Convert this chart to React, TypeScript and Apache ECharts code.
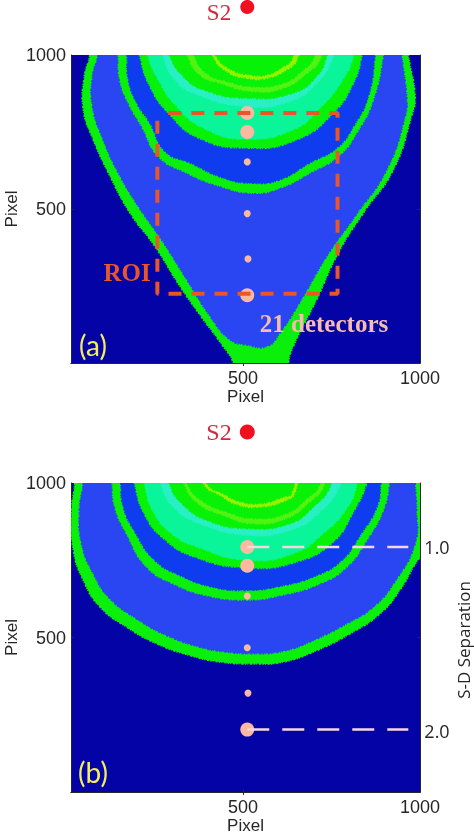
import React, { useEffect, useRef } from "react";
import * as echarts from "echarts";

type P = [number, number];

// ---------- panel (a) contours ----------
const aBand1Outer: P[] = [[68,1040],[68,1001],[52,931],[49,823],[77,725],[120,617],[181,487],[251,379],[322,249],[388,141],[444,54],[473,0],[473,-40],[628,-40],[628,0],[642,54],[708,206],[769,357],[840,487],[925,628],[976,801],[986,866],[967,1001],[967,1040]];
const aBand1Inner: P[] = [[91,1040],[91,1001],[75,931],[75,833],[105,725],[148,617],[204,509],[270,400],[341,271],[407,152],[463,76],[510,59],[567,54],[604,97],[670,216],[736,346],[816,476],[906,628],[958,801],[962,866],[948,1001],[948,1040]];
const aBand2Outer: P[] = [[148,1040],[148,1001],[152,920],[176,844],[214,768],[261,671],[341,617],[435,574],[529,552],[604,568],[689,617],[769,671],[821,747],[868,855],[896,1001],[896,1040]];
const aBand2Inner: P[] = [[173,1040],[173,1001],[176,920],[200,844],[237,779],[280,687],[350,650],[444,601],[529,584],[604,595],[689,650],[765,698],[812,768],[854,866],[873,1001],[873,1040]];
const aCoreOuter: P[] = [[209,1040],[209,996],[237,898],[289,812],[374,731],[510,698],[652,725],[755,812],[812,909],[835,996],[835,1040]];
const aTealOuter: P[] = [[232,1040],[232,996],[261,920],[308,839],[388,763],[510,727],[642,758],[717,828],[779,915],[812,996],[812,1040]];
const aCyanOuter: P[] = [[275,1040],[275,996],[308,920],[360,877],[510,833],[633,850],[708,909],[755,996],[755,1040]];
const aCyanInner: P[] = [[294,1040],[294,996],[331,931],[388,887],[510,860],[642,877],[708,931],[736,996],[736,1040]];
const aLimeOuter: P[] = [[345,1040],[345,996],[378,936],[435,909],[529,882],[614,893],[680,941],[717,985],[717,1040]];
const aLimeInner: P[] = [[364,1040],[364,996],[397,941],[454,915],[529,898],[614,909],[670,952],[699,990],[699,1040]];
const aYellowOuter: P[] = [[416,1040],[416,996],[454,947],[510,925],[567,925],[623,952],[652,985],[652,1040]];
const aYellowInner: P[] = [[425,1040],[425,996],[468,952],[520,936],[567,936],[614,963],[637,985],[637,1040]];

// ---------- panel (b) contours ----------
const bBand1Outer: P[] = [[25,1040],[25,1000],[16,912],[21,782],[49,685],[96,599],[171,534],[256,480],[350,442],[435,421],[529,415],[614,421],[708,458],[802,512],[887,577],[943,653],[1000,760],[1040,800],[1040,1040]];
const bBand1Inner: P[] = [[49,1040],[49,1000],[38,912],[44,804],[77,707],[124,626],[199,561],[284,507],[378,469],[454,453],[529,448],[614,456],[699,491],[793,545],[868,599],[925,674],[986,804],[990,912],[986,1000],[986,1040]];
const bBand2Outer: P[] = [[131,1040],[131,1000],[138,922],[171,836],[228,728],[303,674],[397,636],[510,622],[604,636],[717,674],[793,728],[849,814],[896,912],[913,1000],[913,1040]];
const bBand2Inner: P[] = [[155,1040],[155,1000],[162,922],[195,841],[251,750],[322,701],[416,663],[510,653],[604,666],[708,701],[779,750],[831,831],[878,922],[889,1000],[889,1040]];
const bCoreOuter: P[] = [[195,1040],[195,993],[223,896],[275,821],[360,762],[510,726],[652,745],[755,810],[812,907],[849,999],[849,1040]];
const bTealOuter: P[] = [[223,1040],[223,993],[247,907],[298,837],[369,794],[510,751],[642,772],[727,837],[793,918],[821,993],[821,1040]];
const bCyanOuter: P[] = [[270,1040],[270,993],[308,918],[378,869],[510,832],[633,848],[717,907],[774,993],[774,1040]];
const bCyanInner: P[] = [[294,1040],[294,993],[327,934],[397,880],[510,853],[633,869],[699,923],[746,988],[746,1040]];
const bLimeOuter: P[] = [[336,1040],[336,993],[374,934],[444,896],[529,869],[623,886],[689,940],[727,988],[727,1040]];
const bLimeInner: P[] = [[345,1040],[345,993],[388,940],[454,907],[529,886],[623,902],[680,950],[713,988],[713,1040]];
const bYellowOuter: P[] = [[392,1040],[392,993],[435,961],[482,931],[548,923],[623,945],[647,972],[647,1040]];
const bYellowInner: P[] = [[402,1040],[402,993],[444,966],[487,942],[548,934],[618,956],[637,966],[637,1040]];

const aContours = [aBand1Outer, aBand1Inner, aBand2Outer, aBand2Inner, aCoreOuter, aTealOuter, aCyanOuter, aCyanInner, aLimeOuter, aLimeInner, aYellowOuter, aYellowInner];
const bContours = [bBand1Outer, bBand1Inner, bBand2Outer, bBand2Inner, bCoreOuter, bTealOuter, bCyanOuter, bCyanInner, bLimeOuter, bLimeInner, bYellowOuter, bYellowInner];

const levelColors = ["#0af00a", "#2a45f2", "#0af00a", "#103cf0", "#08f208", "#0af59a", "#28f0c4", "#08f208", "#52f212", "#08f208", "#96f000", "#08f208"];

// ---------- markers ----------
const aLargeDetectors: P[] = [[512,812],[512,750],[512,220]];
const aSmallDetectors: P[] = [[512,653],[512,485],[514,338]];
const bLargeDetectors: P[] = [[512,793],[512,732],[512,202]];
const bSmallDetectors: P[] = [[512,634],[512,467],[514,320]];
const aSource: P[] = [[512,1156]];
const bSource: P[] = [[512,1165]];
const roiPath: P[] = [[289,812],[767,812],[767,225],[258,225],[258,818]];
const separationLine10: P[] = [[512,793],[967,793]];
const separationLine20: P[] = [[512,202],[967,202]];

const tickValues = [500, 1000];

const grids = [
  { left: 71, top: 55, width: 349, height: 308 },
  { left: 71, top: 483, width: 349, height: 309 },
];

const ink = "#262626";
const sansFont = "Liberation Sans";

function contourSeries(contours: P[][], axisIndex: number) {
  return {
    type: "custom",
    xAxisIndex: axisIndex,
    yAxisIndex: axisIndex,
    clip: true,
    silent: true,
    z: 2,
    data: contours.map((_, i) => [i]),
    encode: { x: -1, y: -1 },
    renderItem: (_p: any, api: any) => {
      const i = api.value(0) as number;
      return {
        type: "polygon",
        shape: { points: contours[i].map((p) => api.coord(p)), smooth: 0.5 },
        style: {
          fill: levelColors[i],
          stroke: levelColors[i],
          lineWidth: 1.8,
          lineDash: [1.5, 1, 0.8, 2, 2.2, 1.2],
        },
      };
    },
  };
}

function dots(data: P[], size: number, color: string, axisIndex: number) {
  return {
    type: "scatter",
    xAxisIndex: axisIndex,
    yAxisIndex: axisIndex,
    data,
    symbolSize: size,
    clip: false,
    silent: true,
    z: 3,
    itemStyle: { color, opacity: 1 },
  };
}

function dashed(data: P[], color: string, width: number, dash: number[], axisIndex: number) {
  return {
    type: "line",
    xAxisIndex: axisIndex,
    yAxisIndex: axisIndex,
    data,
    showSymbol: false,
    symbol: "none",
    silent: true,
    z: 4,
    lineStyle: { color, width, type: dash },
  };
}

function xAxis(gridIndex: number, position: "bottom" | "top") {
  const main = position === "bottom";
  return {
    type: "value",
    gridIndex,
    position,
    min: 14,
    max: 1000,
    name: main ? "Pixel" : "",
    nameLocation: "middle",
    nameGap: 25,
    nameMoveOverlap: false,
    nameTextStyle: { fontFamily: sansFont, fontSize: 17, color: ink },
    splitLine: { show: false },
    axisLine: { show: true, lineStyle: { color: ink, width: 1 } },
    axisTick: { show: true, inside: true, length: 3, customValues: [500], lineStyle: { color: ink } },
    axisLabel: main
      ? { show: true, customValues: tickValues, formatter: (v: number) => String(v), margin: 6, fontFamily: sansFont, fontSize: 18, color: ink }
      : { show: false },
  };
}

function yAxis(gridIndex: number, position: "left" | "right") {
  const main = position === "left";
  return {
    type: "value",
    gridIndex,
    position,
    min: 0,
    max: 1000,
    name: main ? "Pixel" : "",
    nameLocation: "middle",
    nameGap: 51,
    nameMoveOverlap: false,
    nameTextStyle: { fontFamily: sansFont, fontSize: 17, color: ink },
    splitLine: { show: false },
    axisLine: { show: true, lineStyle: { color: ink, width: 1 } },
    axisTick: { show: true, inside: true, length: 3, customValues: [500], lineStyle: { color: ink } },
    axisLabel: main
      ? { show: true, customValues: tickValues, formatter: (v: number) => String(v), margin: 5, fontFamily: sansFont, fontSize: 18, color: ink }
      : { show: false },
  };
}

function label(text: string, x: number, y: number, font: string, size: number, color: string, weight = "normal", rotation = 0) {
  return {
    type: "text",
    x,
    y,
    rotation,
    z: 10,
    style: { text, fontFamily: font, fontSize: size, fontWeight: weight, fill: color, align: "center", verticalAlign: "middle" },
  };
}

const peach = "#fcb8a0";
const orange = "#e8562a";
const pinkWhite = "#f8d6e0";
const red = "#f01020";

export default function App() {
  const ref = useRef<HTMLDivElement>(null);
  useEffect(() => {
    document.body.style.margin = "0";
    const chart = echarts.init(ref.current!, null, { renderer: "svg" });
    chart.setOption({
      animation: false,
      backgroundColor: "#ffffff",
      grid: grids.map((g) => ({ ...g, show: true, backgroundColor: "#0404a6", borderWidth: 0, outerBoundsMode: "none", containLabel: false })),
      xAxis: [xAxis(0, "bottom"), xAxis(1, "bottom"), xAxis(0, "top"), xAxis(1, "top")],
      yAxis: [yAxis(0, "left"), yAxis(1, "left"), yAxis(0, "right"), yAxis(1, "right")],
      series: [
        contourSeries(aContours, 0),
        contourSeries(bContours, 1),
        dots(aLargeDetectors, 14, peach, 0),
        dots(aSmallDetectors, 7, peach, 0),
        dots(bLargeDetectors, 14, peach, 1),
        dots(bSmallDetectors, 7, peach, 1),
        dots(aSource, 14, red, 0),
        dots(bSource, 15, red, 1),
        dashed(roiPath, orange, 4, [13, 10], 0),
        dashed(separationLine10, pinkWhite, 2.5, [22, 13], 1),
        dashed(separationLine20, pinkWhite, 2.5, [22, 13], 1),
      ],
      graphic: [
        label("S2", 219, 12, "Liberation Serif", 23, "#cf2a3c"),
        label("S2", 219, 432, "Liberation Serif", 24, "#cf2a3c"),
        label("ROI", 127, 272, "Liberation Serif", 25, orange, "bold"),
        label("21 detectors", 324, 323, "Liberation Serif", 25, "#f6bcae", "bold"),
        label("(a)", 93, 345, "Lato", 28, "#f4ee5c"),
        label("(b)", 93, 772, "Lato", 28, "#f4ee5c"),
        label("1.0", 437, 547, "Open Sans", 18, ink),
        label("2.0", 437, 731, "Open Sans", 18, ink),
        label("S-D Separation", 463, 640, "Open Sans", 17, ink, "normal", Math.PI / 2),
      ],
    });
    return () => chart.dispose();
  }, []);
  return <div ref={ref} style={{ width: 474, height: 835, filter: "blur(0.35px)" }} />;
}
